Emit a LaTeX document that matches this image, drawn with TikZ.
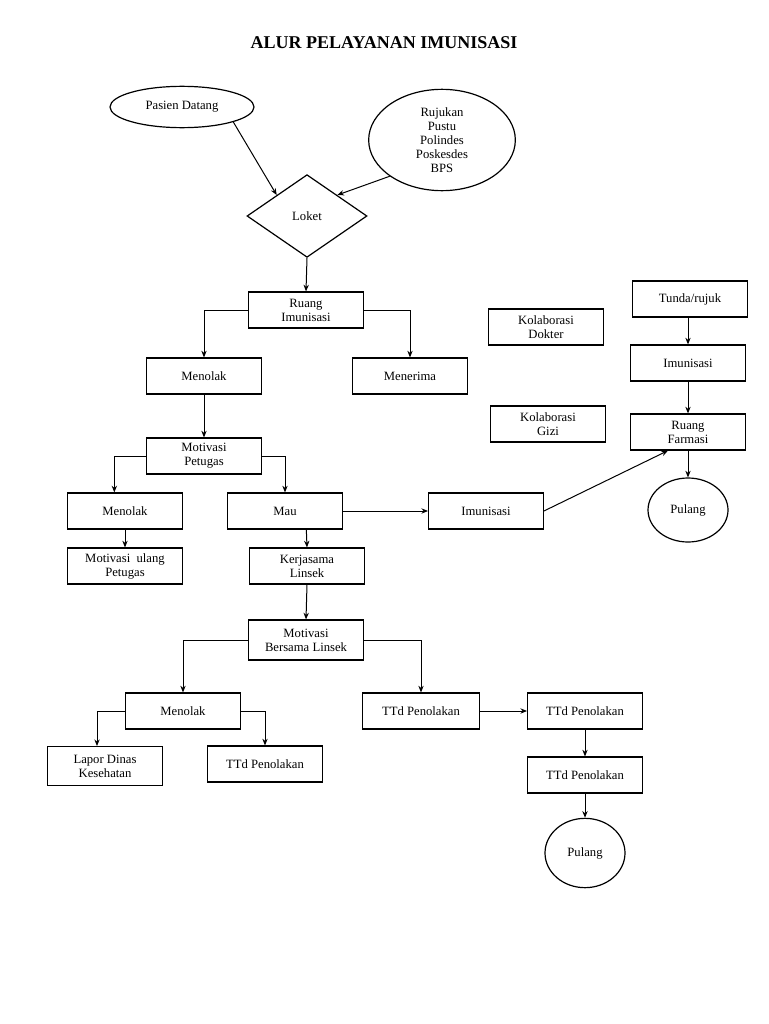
\documentclass[tikz,border=0pt]{standalone}
\usepackage{fontspec}
\setmainfont{Liberation Serif}
\usetikzlibrary{shapes.geometric,arrows.meta}
\begin{document}
\begin{tikzpicture}[x=0.75pt,y=-0.75pt,
  every node/.style={font=\fontsize{9.5}{10.5}\selectfont, align=center, inner sep=1pt},
  box/.style={draw, line width=0.9pt, minimum width=86pt, minimum height=27pt},
  ell/.style={draw, ellipse, line width=0.9pt},
  arr/.style={-{Stealth[length=5pt,width=4pt]}, line width=0.75pt},
  ln/.style={line width=0.75pt}]
\useasboundingbox (0,0) rectangle (768,1024);
\node[font=\fontsize{13.5}{15}\selectfont\bfseries] (title) at (384,43) {ALUR PELAYANAN IMUNISASI};
\node[ell, minimum width=108pt, minimum height=31pt] (pd) at (182,107) {Pasien Datang};
\node[ell, minimum width=110pt, minimum height=76pt] (rj) at (442,140) {Rujukan\\Pustu\\Polindes\\Poskesdes\\BPS};
\node[draw, diamond, line width=0.9pt, minimum width=90pt, minimum height=62pt, inner sep=0pt] (lk) at (307,216) {Loket};
\node[box] (ri) at (306,310) {Ruang\\Imunisasi};
\node[box] (m1) at (204,376) {Menolak};
\node[box] (mr) at (410,376) {Menerima};
\node[box] (mp) at (204,456) {Motivasi\\Petugas};
\node[box] (m2) at (125,511) {Menolak};
\node[box] (mau) at (285,511) {Mau};
\node[box] (mup) at (125,566) {Motivasi \ ulang\\Petugas};
\node[box] (ks) at (307,566) {Kerjasama\\Linsek};
\node[box] (im1) at (486,511) {Imunisasi};
\node[box] (tr) at (690,299) {Tunda/rujuk};
\node[box] (im2) at (688,363) {Imunisasi};
\node[box] (rf) at (688,432) {Ruang\\Farmasi};
\node[ell, minimum width=60pt, minimum height=48pt] (pl1) at (688,510) {Pulang};
\node[box] (kd) at (546,327) {Kolaborasi\\Dokter};
\node[box] (kg) at (548,424) {Kolaborasi\\Gizi};
\node[box, minimum height=30pt] (mbl) at (306,640) {Motivasi\\Bersama Linsek};
\node[box] (m3) at (183,711) {Menolak};
\node[box, minimum width=88pt] (tp1) at (421,711) {TTd Penolakan};
\node[box, minimum height=29pt] (ld) at (105,766) {Lapor Dinas\\Kesehatan};
\node[box] (tp2) at (265,764) {TTd Penolakan};
\node[box] (tp3) at (585,711) {TTd Penolakan};
\node[box] (tp4) at (585,775) {TTd Penolakan};
\node[ell, minimum width=60pt, minimum height=52pt] (pl2) at (585,853) {Pulang};

\draw[arr] (pd.south east) -- (lk.north west);
\draw[arr] (rj.south west) -- (lk.north east);
\draw[arr] (lk.south) -- (ri.north);
\draw[arr] (ri.west) -| (m1.north);
\draw[arr] (ri.east) -| (mr.north);
\draw[arr] (m1.south) -- (mp.north);
\draw[arr] (mp.west) -| ([xshift=-8pt]m2.north);
\draw[arr] (mp.east) -| (mau.north);
\draw[arr] (m2.south) -- (mup.north);
\draw[arr] ([xshift=16pt]mau.south) -- (ks.north);
\draw[arr] (mau.east) -- (im1.west);
\draw[arr] (im1.east) -- ([xshift=-15pt]rf.south);
\draw[arr] (tr.south -| im2.north) -- (im2.north);
\draw[arr] (im2.south) -- (rf.north);
\draw[arr] (rf.south) -- (pl1.north);
\draw[arr] (ks.south) -- (mbl.north);
\draw[arr] (mbl.west) -| (m3.north);
\draw[arr] (mbl.east) -| (tp1.north);
\draw[arr] (m3.west) -| ([xshift=-6pt]ld.north);
\draw[arr] (m3.east) -| (tp2.north);
\draw[arr] (tp1.east) -- (tp3.west);
\draw[arr] (tp3.south) -- (tp4.north);
\draw[arr] (tp4.south) -- (pl2.north);
\end{tikzpicture}
\end{document}
